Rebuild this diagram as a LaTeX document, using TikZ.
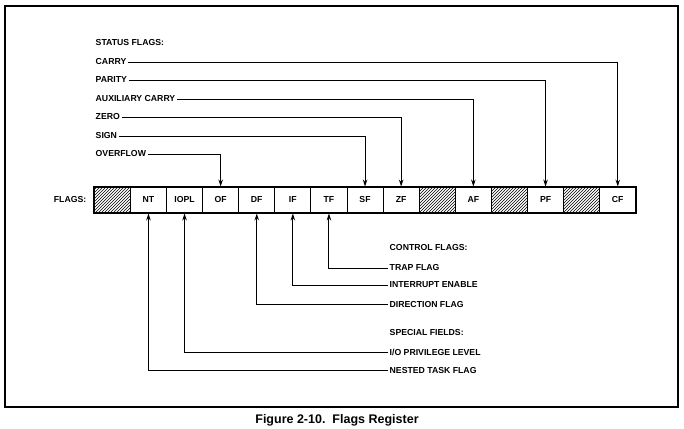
\documentclass[tikz,border=0pt]{standalone}
\usepackage{fontspec}
\setmainfont{Liberation Sans}
\usetikzlibrary{patterns,arrows.meta}
\begin{document}
\begin{tikzpicture}[x=1pt,y=-1pt,
  lbl/.style={font=\fontsize{8.7}{10}\selectfont\bfseries,inner sep=1.5pt},
  cell/.style={draw,line width=0.9pt,minimum width=36.1pt,minimum height=26pt,inner sep=0pt,font=\fontsize{8.7}{10}\selectfont\bfseries},
  con/.style={line width=1pt},
  arr/.style={con,-{Stealth[length=7pt,width=4.5pt]}}]
\useasboundingbox (0,0) rectangle (684,428);
\draw[line width=1.4pt] (5,6) rectangle (678,407);
% register
\foreach \n/\t [count=\i from 0] in {h1/,nt/NT,iopl/IOPL,of/OF,df/DF,if/IF,tf/TF,sf/SF,zf/ZF,h2/,af/AF,h3/,pf/PF,h4/,cf/CF}{
  \node[cell] (\n) at (94.3+36.1*\i+18.05,200) {\t};
}
\foreach \n in {h1,h2,h3,h4} \fill[pattern=north east lines] ([shift={(0.4,0.4)}]\n.north west) rectangle ([shift={(-0.4,-0.4)}]\n.south east);
\draw[line width=2pt] (h1.north west) rectangle (cf.south east);
\node[lbl,anchor=east] (flags) at (88,200) {FLAGS:};
% status flags
\node[lbl,anchor=west] (st) at (94,43) {STATUS FLAGS:};
\node[lbl,anchor=west] (carry) at (94,62) {CARRY};
\node[lbl,anchor=west] (parity) at (94,80) {PARITY};
\node[lbl,anchor=west] (aux) at (94,99) {AUXILIARY CARRY};
\node[lbl,anchor=west] (zero) at (94,117) {ZERO};
\node[lbl,anchor=west] (sign) at (94,136) {SIGN};
\node[lbl,anchor=west] (ovf) at (94,154) {OVERFLOW};
\draw[arr] (carry.east) -| (cf.north);
\draw[arr] (parity.east) -| (pf.north);
\draw[arr] (aux.east) -| (af.north);
\draw[arr] (zero.east) -| (zf.north);
\draw[arr] (sign.east) -| (sf.north);
\draw[arr] (ovf.east) -| (of.north);
% control flags
\node[lbl,anchor=west] (ctl) at (388,248) {CONTROL FLAGS:};
\node[lbl,anchor=west] (trap) at (388,268) {TRAP FLAG};
\node[lbl,anchor=west] (intr) at (388,285) {INTERRUPT ENABLE};
\node[lbl,anchor=west] (dir) at (388,304) {DIRECTION FLAG};
\node[lbl,anchor=west] (spec) at (388,332) {SPECIAL FIELDS:};
\node[lbl,anchor=west] (io) at (388,352) {I/O PRIVILEGE LEVEL};
\node[lbl,anchor=west] (nest) at (388,370) {NESTED TASK FLAG};
\draw[arr] (trap.west) -| (tf.south);
\draw[arr] (intr.west) -| (if.south);
\draw[arr] (dir.west) -| (df.south);
\draw[arr] (io.west) -| (iopl.south);
\draw[arr] (nest.west) -| (nt.south);
\node[font=\fontsize{12.5}{14}\selectfont\bfseries] (cap) at (337,420) {Figure 2-10.\ \ Flags Register};
\end{tikzpicture}
\end{document}
